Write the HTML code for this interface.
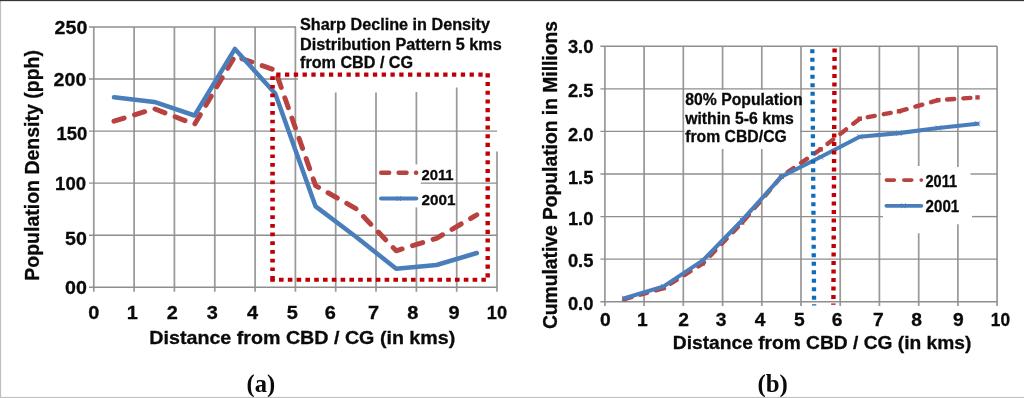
<!DOCTYPE html>
<html lang="en">
<head>
<meta charset="utf-8">
<title>Population density and cumulative population vs distance from CBD / CG</title>
<style>
html,body{margin:0;padding:0;background:#fff;}
body{width:1024px;height:398px;overflow:hidden;}
svg{display:block;}
text.s{font-family:"Liberation Sans",Arial,Helvetica,sans-serif;font-weight:bold;fill:#0a0a0a;stroke:#0a0a0a;stroke-width:0.3px;}
text.r{font-family:"Liberation Serif","Times New Roman",Times,serif;font-weight:bold;fill:#0a0a0a;}
</style>
</head>
<body>
<svg width="1024" height="398" viewBox="0 0 1024 398">
<rect x="0" y="0" width="1024" height="398" fill="#ffffff"/>
<g id="left-grid">
<line x1="93.8" y1="27.0" x2="93.8" y2="291.8" stroke="#9a9a9a" stroke-width="1.75" />
<line x1="134.1" y1="27.0" x2="134.1" y2="291.8" stroke="#9a9a9a" stroke-width="1.75" />
<line x1="174.4" y1="27.0" x2="174.4" y2="291.8" stroke="#9a9a9a" stroke-width="1.75" />
<line x1="214.8" y1="27.0" x2="214.8" y2="291.8" stroke="#9a9a9a" stroke-width="1.75" />
<line x1="255.1" y1="27.0" x2="255.1" y2="291.8" stroke="#9a9a9a" stroke-width="1.75" />
<line x1="295.4" y1="27.0" x2="295.4" y2="291.8" stroke="#9a9a9a" stroke-width="1.75" />
<line x1="335.7" y1="92.5" x2="335.7" y2="291.8" stroke="#9a9a9a" stroke-width="1.75" />
<line x1="376.0" y1="92.5" x2="376.0" y2="291.8" stroke="#9a9a9a" stroke-width="1.75" />
<line x1="416.4" y1="92.0" x2="416.4" y2="164.4" stroke="#9a9a9a" stroke-width="1.75" />
<line x1="416.4" y1="207.4" x2="416.4" y2="291.8" stroke="#9a9a9a" stroke-width="1.75" />
<line x1="456.7" y1="87.5" x2="456.7" y2="291.8" stroke="#9a9a9a" stroke-width="1.75" />
<line x1="497.0" y1="151.5" x2="497.0" y2="291.8" stroke="#9a9a9a" stroke-width="1.75" />
<line x1="89.0" y1="27.0" x2="296.0" y2="27.0" stroke="#8e8e8e" stroke-width="1.4" />
<line x1="89.0" y1="79.0" x2="298.0" y2="79.0" stroke="#8e8e8e" stroke-width="1.4" />
<line x1="89.0" y1="131.1" x2="497.0" y2="131.1" stroke="#8e8e8e" stroke-width="1.4" />
<line x1="89.0" y1="183.1" x2="376.8" y2="183.1" stroke="#8e8e8e" stroke-width="1.4" />
<line x1="420.8" y1="183.1" x2="497.0" y2="183.1" stroke="#8e8e8e" stroke-width="1.4" />
<line x1="89.0" y1="235.2" x2="497.0" y2="235.2" stroke="#8e8e8e" stroke-width="1.4" />
<line x1="89.0" y1="287.2" x2="497.0" y2="287.2" stroke="#8e8e8e" stroke-width="1.4" />
</g>
<g id="left-yticks">
<text class="s" x="87.3" y="34.3" font-size="19" text-anchor="end" textLength="32.7" lengthAdjust="spacingAndGlyphs" >250</text>
<text class="s" x="86.3" y="86.2" font-size="19" text-anchor="end" textLength="32.7" lengthAdjust="spacingAndGlyphs" >200</text>
<text class="s" x="87.3" y="139.9" font-size="19" text-anchor="end" textLength="30.9" lengthAdjust="spacingAndGlyphs" >150</text>
<text class="s" x="86.0" y="190.4" font-size="19" text-anchor="end" textLength="30.9" lengthAdjust="spacingAndGlyphs" >100</text>
<text class="s" x="86.9" y="244.9" font-size="19" text-anchor="end" textLength="21.8" lengthAdjust="spacingAndGlyphs" >50</text>
<text class="s" x="86.9" y="294.3" font-size="19" text-anchor="end" textLength="21.8" lengthAdjust="spacingAndGlyphs" >00</text>
</g>
<g id="left-xticks">
<text class="s" x="93.8" y="319.2" font-size="18.8" text-anchor="middle" textLength="11.1" lengthAdjust="spacingAndGlyphs" >0</text>
<text class="s" x="132.4" y="319.2" font-size="18.8" text-anchor="middle" textLength="11.1" lengthAdjust="spacingAndGlyphs" >1</text>
<text class="s" x="172.4" y="319.2" font-size="18.8" text-anchor="middle" textLength="11.1" lengthAdjust="spacingAndGlyphs" >2</text>
<text class="s" x="212.3" y="319.2" font-size="18.8" text-anchor="middle" textLength="11.1" lengthAdjust="spacingAndGlyphs" >3</text>
<text class="s" x="252.6" y="319.2" font-size="18.8" text-anchor="middle" textLength="11.1" lengthAdjust="spacingAndGlyphs" >4</text>
<text class="s" x="292.4" y="319.2" font-size="18.8" text-anchor="middle" textLength="11.1" lengthAdjust="spacingAndGlyphs" >5</text>
<text class="s" x="330.4" y="319.2" font-size="18.8" text-anchor="middle" textLength="11.1" lengthAdjust="spacingAndGlyphs" >6</text>
<text class="s" x="373.5" y="319.2" font-size="18.8" text-anchor="middle" textLength="11.1" lengthAdjust="spacingAndGlyphs" >7</text>
<text class="s" x="412.7" y="319.2" font-size="18.8" text-anchor="middle" textLength="11.1" lengthAdjust="spacingAndGlyphs" >8</text>
<text class="s" x="454.1" y="319.2" font-size="18.8" text-anchor="middle" textLength="11.1" lengthAdjust="spacingAndGlyphs" >9</text>
<text class="s" x="497.0" y="319.2" font-size="18.8" text-anchor="middle" textLength="20.3" lengthAdjust="spacingAndGlyphs" >10</text>
</g>
<text class="s" x="302.3" y="343.5" font-size="18.6" text-anchor="middle" textLength="306" lengthAdjust="spacingAndGlyphs" >Distance from CBD / CG (in kms)</text>
<text class="s" font-size="21" text-anchor="middle" textLength="230.7" lengthAdjust="spacingAndGlyphs" transform="translate(39.3,165.4) rotate(-90)">Population Density (pph)</text>
<polyline points="114.0,121.2 154.3,108.7 194.6,124.3 234.9,56.1 275.2,70.2 315.6,185.7 355.9,208.6 396.2,250.8 436.5,238.3 476.8,214.9" fill="none" stroke="#b84240" stroke-width="5" stroke-linecap="round" stroke-linejoin="round" stroke-dasharray="10.6 10.9"/>
<polyline points="114.0,97.3 154.3,101.9 194.6,115.5 234.9,48.9 275.2,93.6 315.6,206.4 355.9,236.7 396.2,268.8 436.5,265.0 476.8,253.0" fill="none" stroke="#4a7ebb" stroke-width="4.5" stroke-linecap="round" stroke-linejoin="round"/>
<g id="left-box">
<line x1="276.2" y1="74.6" x2="482.8" y2="74.6" stroke="#be0006" stroke-width="4.3" stroke-dasharray="4.3 4.49"/>
<line x1="279.0" y1="279.75" x2="485.9" y2="279.75" stroke="#be0006" stroke-width="4.1" stroke-dasharray="4.6 4.2"/>
<line x1="272.55" y1="76.2" x2="272.55" y2="281.8" stroke="#be0006" stroke-width="4.6" stroke-dasharray="3.7 4.99"/>
<rect x="270.25" y="279" width="4.6" height="2.8" fill="#be0006"/>
<line x1="487.7" y1="73.3" x2="487.7" y2="277.5" stroke="#be0006" stroke-width="4.4" stroke-dasharray="4.1 4.595"/>
</g>
<g id="left-note">
<text class="s" x="300.0" y="29.6" font-size="16" text-anchor="start" textLength="190" lengthAdjust="spacingAndGlyphs" >Sharp Decline in Density</text>
<text class="s" x="300.0" y="49.6" font-size="16" text-anchor="start" textLength="201.8" lengthAdjust="spacingAndGlyphs" >Distribution Pattern 5 kms</text>
<text class="s" x="300.0" y="68.2" font-size="16" text-anchor="start" textLength="113.1" lengthAdjust="spacingAndGlyphs" >from CBD / CG</text>
</g>
<g id="left-legend">
<line x1="381.2" y1="172.8" x2="416.2" y2="172.8" stroke="#b84240" stroke-width="4.4" stroke-linecap="round" stroke-dasharray="8 9.4"/>
<line x1="381.1" y1="198.5" x2="416.2" y2="198.5" stroke="#4a7ebb" stroke-width="4.2" stroke-linecap="round"/>
<path d="M396.8 196.2l4 4.8m0-4.8l-4 4.8" stroke="#4a7ebb" stroke-width="1" fill="none"/>
<text class="s" x="421.4" y="179.5" font-size="15.5" text-anchor="start" textLength="32.2" lengthAdjust="spacingAndGlyphs" >2011</text>
<text class="s" x="421.4" y="204.9" font-size="15.5" text-anchor="start" textLength="34.0" lengthAdjust="spacingAndGlyphs" >2001</text>
</g>
<g id="right-grid">
<line x1="604.9" y1="46.3" x2="604.9" y2="306.0" stroke="#9a9a9a" stroke-width="1.75" />
<line x1="644.1" y1="46.3" x2="644.1" y2="306.0" stroke="#9a9a9a" stroke-width="1.75" />
<line x1="683.3" y1="46.3" x2="683.3" y2="306.0" stroke="#9a9a9a" stroke-width="1.75" />
<line x1="722.6" y1="46.3" x2="722.6" y2="89.8" stroke="#9a9a9a" stroke-width="1.75" />
<line x1="722.6" y1="149.0" x2="722.6" y2="306.0" stroke="#9a9a9a" stroke-width="1.75" />
<line x1="761.8" y1="46.3" x2="761.8" y2="89.8" stroke="#9a9a9a" stroke-width="1.75" />
<line x1="761.8" y1="149.0" x2="761.8" y2="306.0" stroke="#9a9a9a" stroke-width="1.75" />
<line x1="801.0" y1="46.3" x2="801.0" y2="306.0" stroke="#9a9a9a" stroke-width="1.75" />
<line x1="840.2" y1="46.3" x2="840.2" y2="306.0" stroke="#9a9a9a" stroke-width="1.75" />
<line x1="879.4" y1="46.3" x2="879.4" y2="306.0" stroke="#9a9a9a" stroke-width="1.75" />
<line x1="918.7" y1="46.3" x2="918.7" y2="166.0" stroke="#9a9a9a" stroke-width="1.75" />
<line x1="918.7" y1="233.3" x2="918.7" y2="306.0" stroke="#9a9a9a" stroke-width="1.75" />
<line x1="957.9" y1="46.3" x2="957.9" y2="167.0" stroke="#9a9a9a" stroke-width="1.75" />
<line x1="957.9" y1="224.3" x2="957.9" y2="306.0" stroke="#9a9a9a" stroke-width="1.75" />
<line x1="997.1" y1="46.3" x2="997.1" y2="306.0" stroke="#9a9a9a" stroke-width="1.75" />
<line x1="600.4" y1="46.3" x2="997.1" y2="46.3" stroke="#8e8e8e" stroke-width="1.4" />
<line x1="600.4" y1="88.9" x2="997.1" y2="88.9" stroke="#8e8e8e" stroke-width="1.4" />
<line x1="600.4" y1="131.4" x2="684.5" y2="131.4" stroke="#8e8e8e" stroke-width="1.4" />
<line x1="800.0" y1="131.4" x2="997.1" y2="131.4" stroke="#8e8e8e" stroke-width="1.4" />
<line x1="600.4" y1="174.0" x2="881.0" y2="174.0" stroke="#8e8e8e" stroke-width="1.4" />
<line x1="970.5" y1="174.0" x2="997.1" y2="174.0" stroke="#8e8e8e" stroke-width="1.4" />
<line x1="600.4" y1="216.6" x2="883.0" y2="216.6" stroke="#8e8e8e" stroke-width="1.4" />
<line x1="972.0" y1="216.6" x2="997.1" y2="216.6" stroke="#8e8e8e" stroke-width="1.4" />
<line x1="600.4" y1="259.1" x2="997.1" y2="259.1" stroke="#8e8e8e" stroke-width="1.4" />
<line x1="600.4" y1="301.7" x2="997.1" y2="301.7" stroke="#8e8e8e" stroke-width="1.4" />
</g>
<g id="right-yticks">
<text class="s" x="593.4" y="52.9" font-size="18.5" text-anchor="end" textLength="25.5" lengthAdjust="spacingAndGlyphs" >3.0</text>
<text class="s" x="593.4" y="96.8" font-size="18.5" text-anchor="end" textLength="25.5" lengthAdjust="spacingAndGlyphs" >2.5</text>
<text class="s" x="593.4" y="141.1" font-size="18.5" text-anchor="end" textLength="25.5" lengthAdjust="spacingAndGlyphs" >2.0</text>
<text class="s" x="593.4" y="184.3" font-size="18.5" text-anchor="end" textLength="25.5" lengthAdjust="spacingAndGlyphs" >1.5</text>
<text class="s" x="593.4" y="225.3" font-size="18.5" text-anchor="end" textLength="25.5" lengthAdjust="spacingAndGlyphs" >1.0</text>
<text class="s" x="593.4" y="266.5" font-size="18.5" text-anchor="end" textLength="25.5" lengthAdjust="spacingAndGlyphs" >0.5</text>
<text class="s" x="593.4" y="309.6" font-size="18.5" text-anchor="end" textLength="25.5" lengthAdjust="spacingAndGlyphs" >0.0</text>
</g>
<g id="right-xticks">
<text class="s" x="605.3" y="325.7" font-size="18.6" text-anchor="middle" textLength="10.7" lengthAdjust="spacingAndGlyphs" >0</text>
<text class="s" x="642.4" y="325.7" font-size="18.6" text-anchor="middle" textLength="10.7" lengthAdjust="spacingAndGlyphs" >1</text>
<text class="s" x="683.5" y="325.7" font-size="18.6" text-anchor="middle" textLength="10.7" lengthAdjust="spacingAndGlyphs" >2</text>
<text class="s" x="721.1" y="325.7" font-size="18.6" text-anchor="middle" textLength="10.7" lengthAdjust="spacingAndGlyphs" >3</text>
<text class="s" x="760.1" y="325.7" font-size="18.6" text-anchor="middle" textLength="10.7" lengthAdjust="spacingAndGlyphs" >4</text>
<text class="s" x="799.4" y="325.7" font-size="18.6" text-anchor="middle" textLength="10.7" lengthAdjust="spacingAndGlyphs" >5</text>
<text class="s" x="837.2" y="325.7" font-size="18.6" text-anchor="middle" textLength="10.7" lengthAdjust="spacingAndGlyphs" >6</text>
<text class="s" x="878.4" y="325.7" font-size="18.6" text-anchor="middle" textLength="10.7" lengthAdjust="spacingAndGlyphs" >7</text>
<text class="s" x="916.5" y="325.7" font-size="18.6" text-anchor="middle" textLength="10.7" lengthAdjust="spacingAndGlyphs" >8</text>
<text class="s" x="958.3" y="325.7" font-size="18.6" text-anchor="middle" textLength="10.7" lengthAdjust="spacingAndGlyphs" >9</text>
<text class="s" x="1000.4" y="325.7" font-size="18.6" text-anchor="middle" textLength="19.2" lengthAdjust="spacingAndGlyphs" >10</text>
</g>
<text class="s" x="822.1" y="348.5" font-size="18.8" text-anchor="middle" textLength="298.5" lengthAdjust="spacingAndGlyphs" >Distance from CBD / CG (in kms)</text>
<text class="s" font-size="20.4" text-anchor="middle" textLength="308" lengthAdjust="spacingAndGlyphs" transform="translate(556.8,175.1) rotate(-90)">Cumulative Population in Millions</text>
<polyline points="624.5,299.1 663.7,288.1 702.9,263.4 742.2,222.5 781.4,176.6 820.6,149.3 859.8,118.7 899.0,111.3 938.3,100.1 977.5,97.4" fill="none" stroke="#b84240" stroke-width="4.4" stroke-linecap="round" stroke-linejoin="round" stroke-dasharray="7.1 9.2"/>
<rect x="622.3" y="296.9" width="4.4" height="4.4" fill="#b84240"/>
<rect x="661.5" y="285.9" width="4.4" height="4.4" fill="#b84240"/>
<rect x="700.7" y="261.2" width="4.4" height="4.4" fill="#b84240"/>
<rect x="740.0" y="220.3" width="4.4" height="4.4" fill="#b84240"/>
<rect x="779.2" y="174.4" width="4.4" height="4.4" fill="#b84240"/>
<rect x="818.4" y="147.1" width="4.4" height="4.4" fill="#b84240"/>
<rect x="857.6" y="116.5" width="4.4" height="4.4" fill="#b84240"/>
<rect x="896.8" y="109.1" width="4.4" height="4.4" fill="#b84240"/>
<rect x="936.1" y="97.9" width="4.4" height="4.4" fill="#b84240"/>
<rect x="975.3" y="95.2" width="4.4" height="4.4" fill="#b84240"/>
<polyline points="624.5,298.3 663.7,286.4 702.9,260.4 742.2,220.2 781.4,176.7 820.6,157.0 859.8,136.8 899.0,133.1 938.3,128.0 977.5,123.8" fill="none" stroke="#4a7ebb" stroke-width="4.1" stroke-linecap="round" stroke-linejoin="round"/>
<path d="M622.0 295.8l5 5m0-5l-5 5" stroke="#4a7ebb" stroke-width="1" fill="none"/>
<path d="M661.2 283.9l5 5m0-5l-5 5" stroke="#4a7ebb" stroke-width="1" fill="none"/>
<path d="M700.4 257.9l5 5m0-5l-5 5" stroke="#4a7ebb" stroke-width="1" fill="none"/>
<path d="M739.7 217.7l5 5m0-5l-5 5" stroke="#4a7ebb" stroke-width="1" fill="none"/>
<path d="M778.9 174.2l5 5m0-5l-5 5" stroke="#4a7ebb" stroke-width="1" fill="none"/>
<path d="M818.1 154.5l5 5m0-5l-5 5" stroke="#4a7ebb" stroke-width="1" fill="none"/>
<path d="M857.3 134.3l5 5m0-5l-5 5" stroke="#4a7ebb" stroke-width="1" fill="none"/>
<path d="M896.5 130.6l5 5m0-5l-5 5" stroke="#4a7ebb" stroke-width="1" fill="none"/>
<path d="M935.8 125.5l5 5m0-5l-5 5" stroke="#4a7ebb" stroke-width="1" fill="none"/>
<path d="M975.0 121.3l5 5m0-5l-5 5" stroke="#4a7ebb" stroke-width="1" fill="none"/>
<line x1="812.3" y1="49.3" x2="814.1" y2="305.6" stroke="#0f6cb8" stroke-width="4.3" stroke-dasharray="4 4.5"/>
<line x1="834.6" y1="48.5" x2="833.4" y2="304.8" stroke="#be0006" stroke-width="4.4" stroke-dasharray="4 4.5"/>
<g id="right-note">
<text class="s" x="685.2" y="104.8" font-size="15.6" text-anchor="start" textLength="117.4" lengthAdjust="spacingAndGlyphs" >80% Population</text>
<text class="s" x="685.2" y="123.5" font-size="15.6" text-anchor="start" textLength="108.6" lengthAdjust="spacingAndGlyphs" >within 5-6 kms</text>
<text class="s" x="685.2" y="142.2" font-size="15.6" text-anchor="start" textLength="101.6" lengthAdjust="spacingAndGlyphs" >from CBD/CG</text>
</g>
<g id="right-legend">
<line x1="886.4" y1="180.1" x2="921.4" y2="180.1" stroke="#b84240" stroke-width="3.6" stroke-linecap="round" stroke-dasharray="8 9.4"/>
<line x1="886.4" y1="205.8" x2="921.4" y2="205.8" stroke="#4a7ebb" stroke-width="3.8" stroke-linecap="round"/>
<path d="M901.5 203.4l4 4.8m0-4.8l-4 4.8" stroke="#4a7ebb" stroke-width="1" fill="none"/>
<text class="s" x="925.5" y="187.2" font-size="15.6" text-anchor="start" textLength="31.6" lengthAdjust="spacingAndGlyphs" >2011</text>
<text class="s" x="925.6" y="212.0" font-size="15.6" text-anchor="start" textLength="33.6" lengthAdjust="spacingAndGlyphs" >2001</text>
</g>
<text class="r" x="260.9" y="391.9" font-size="24.6" text-anchor="middle" >(a)</text>
<text class="r" x="772.7" y="392.1" font-size="24.9" text-anchor="middle" >(b)</text>
<rect x="0" y="1" width="1.1" height="397" fill="#bebebe"/>
<rect x="0" y="396.9" width="1024" height="1.1" fill="#c0c0c0"/>
<rect x="0" y="0" width="1024" height="1.15" fill="#363636"/>
</svg>
</body>
</html>
